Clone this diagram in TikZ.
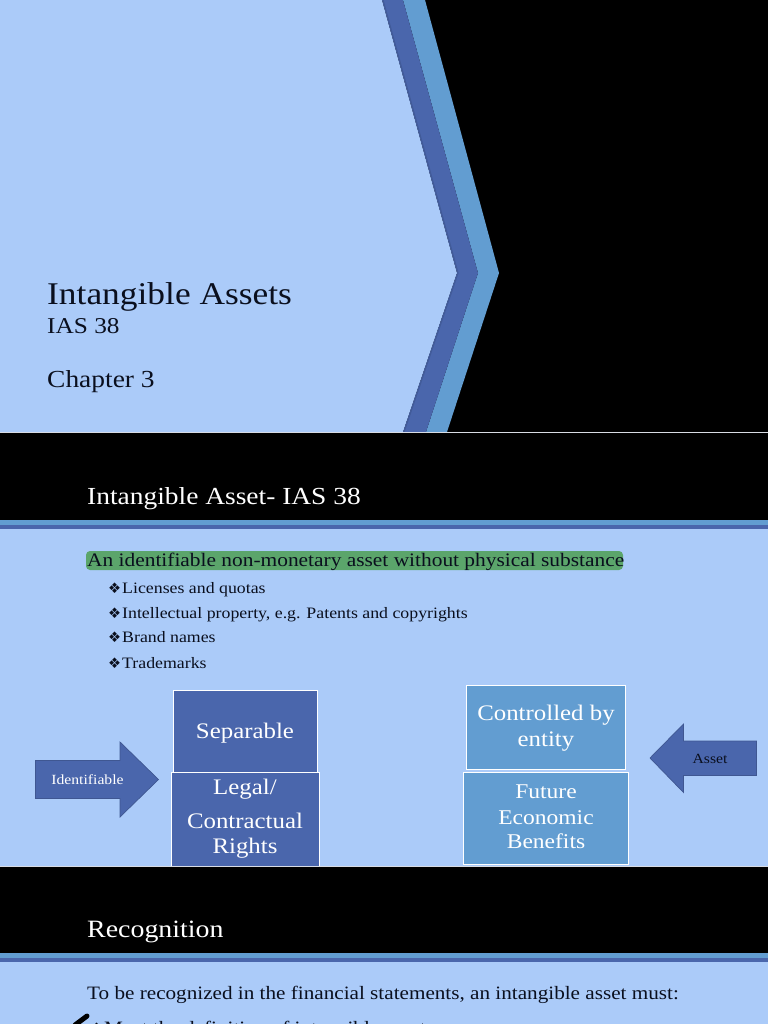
\documentclass[tikz,border=0pt]{standalone}
\usepackage{fontspec}
\setmainfont{Liberation Serif}[FakeStretch=1.12]
\newfontfamily\symfont{DejaVu Sans}
\definecolor{pagebg}{HTML}{ABCBF9}
\definecolor{darkblue}{HTML}{4A66AC}
\definecolor{midblue}{HTML}{629DD1}
\definecolor{hilite}{HTML}{5BA56B}
\definecolor{inktext}{HTML}{0A0F1E}
\definecolor{sepline}{HTML}{D8DCE4}
\tikzset{
  x=1pt,y=-1pt,
  slidetitle/.style={anchor=base west,inner sep=0pt,text=white},
  ink/.style={anchor=base west,inner sep=0pt,text=inktext},
  bullet/.style={ink,font=\fontsize{15.9}{18}\selectfont},
  darkbox/.style={draw=white,line width=1pt,fill=darkblue},
  midbox/.style={draw=white,line width=1pt,fill=midblue},
  boxlabel/.style={anchor=base,inner sep=0pt,align=center,text=white,font=\fontsize{22.2}{26}\selectfont},
  boxlabelsmall/.style={boxlabel,font=\fontsize{21}{24}\selectfont},
  arrowlabel/.style={anchor=base,inner sep=0pt,font=\fontsize{14}{16}\selectfont},
  blockarrow/.style={fill=darkblue,draw=darkblue!85!black,line width=0.7pt},
}
\newcommand{\dia}{\makebox[14pt][l]{\symfont\fontsize{14.5}{16}\selectfont ❖}}
\begin{document}
\begin{tikzpicture}
\useasboundingbox (0,0) rectangle (768,1024);
\fill[black] (0,0) rectangle (768,1024);
% slide 1
\fill[pagebg] (0,0) -- (382,0) -- (457,273) -- (403,432) -- (0,432) -- cycle;
\fill[midblue] (403,0) -- (425,0) -- (499,273) -- (447,432) -- (426,432) -- (478,273) -- cycle;
\fill[darkblue] (382,0) -- (403,0) -- (478,273) -- (426,432) -- (403,432) -- (457,273) -- cycle;
\draw[darkblue!80!black,line width=1.2pt,opacity=.55] (383,0) -- (458,273) -- (404,432);
\fill[sepline] (0,432) rectangle (768,433);
\node[ink,font=\fontsize{31.6}{36}\selectfont] (title) at (47,304) {Intangible Assets};
\node[ink,font=\fontsize{22.6}{26}\selectfont] (ias) at (47,333) {IAS 38};
\node[ink,font=\fontsize{24.5}{28}\selectfont] (chap) at (47,387) {Chapter 3};
% slide 2
\node[slidetitle,font=\fontsize{24.5}{28}\selectfont] (t2) at (87,504) {Intangible Asset- IAS 38};
\fill[midblue] (0,520) rectangle (768,524.5);
\fill[darkblue] (0,524.5) rectangle (768,529);
\fill[pagebg] (0,529) rectangle (768,865.5);
\fill[hilite,rounded corners=4pt] (86,551) rectangle (623,570);
\node[ink,font=\fontsize{19.1}{22}\selectfont] (def) at (87,566) {An identifiable non-monetary asset without physical substance};
\node[bullet] (b1) at (108,593) {\dia Licenses and quotas};
\node[bullet] (b2) at (108,618) {\dia Intellectual property, e.g. Patents and copyrights};
\node[bullet] (b3) at (108,642.5) {\dia Brand names};
\node[bullet] (b4) at (108,668.5) {\dia Trademarks};
\draw[darkbox] (173.5,690.5) rectangle (317.5,773);
\node[boxlabel] (sep) at (245,738) {Separable};
\draw[darkbox] (171.5,772.5) rectangle (319.5,866);
\node[boxlabel] (leg1) at (245,794) {Legal/};
\node[boxlabel] (leg2) at (245,828) {Contractual};
\node[boxlabel] (leg3) at (245,853) {Rights};
\filldraw[blockarrow] (35.5,760.5) -- (120,760.5) -- (120,742) -- (158.5,779.5) -- (120,817) -- (120,798.5) -- (35.5,798.5) -- cycle;
\node[arrowlabel,text=white] (idn) at (87.5,784) {Identifiable};
\draw[midbox] (466.5,685.5) rectangle (625.5,769);
\node[boxlabel] (con1) at (546,720) {Controlled by};
\node[boxlabel] (con2) at (546,746) {entity};
\draw[midbox] (463.5,772.5) rectangle (628.8,864.5);
\node[boxlabelsmall] (fut1) at (546,798) {Future};
\node[boxlabelsmall] (fut2) at (546,824) {Economic};
\node[boxlabelsmall] (fut3) at (546,848) {Benefits};
\filldraw[blockarrow] (756.5,741) -- (683.5,741) -- (683.5,724) -- (650,758) -- (683.5,792.5) -- (683.5,775.5) -- (756.5,775.5) -- cycle;
\node[arrowlabel,text=inktext] (ast) at (710,763) {Asset};
\fill[sepline] (0,865.5) rectangle (768,866.5);
% slide 3
\node[slidetitle,font=\fontsize{24.9}{28}\selectfont] (t3) at (87,937) {Recognition};
\fill[midblue] (0,953) rectangle (768,957.5);
\fill[darkblue] (0,957.5) rectangle (768,962);
\fill[pagebg] (0,962) rectangle (768,1024);
\node[ink,font=\fontsize{18.9}{22}\selectfont] (rec) at (87,999) {To be recognized in the financial statements, an intangible asset must:};
\draw[black,line width=5pt,line cap=round] (75,1025) -- (87,1016);
\node[ink,font=\fontsize{18.9}{22}\selectfont] (mt) at (104,1034) {Meet the definition of intangible asset};
\node[ink,font=\fontsize{14.5}{16}\selectfont] (md) at (90,1033) {\symfont❖};
\end{tikzpicture}
\end{document}
